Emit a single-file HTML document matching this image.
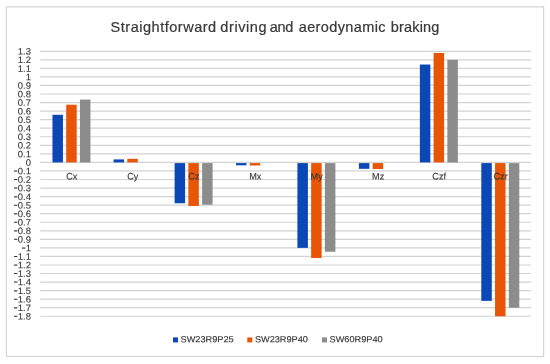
<!DOCTYPE html><html><head><meta charset="utf-8"><title>Chart</title><style>html,body{margin:0;padding:0;background:#fff}svg{display:block}text{font-family:"Liberation Sans",sans-serif;fill:#3c3c3c}</style></head><body>
<svg width="550" height="364" viewBox="0 0 550 364">
<rect x="0" y="0" width="550" height="364" fill="#ffffff"/>
<rect x="6.4" y="6.9" width="537.2" height="349.6" fill="#fff" stroke="#d4d4d4" stroke-width="1.2"/>
<line x1="40.2" x2="531.0" y1="51.28" y2="51.28" stroke="#d2d2d2" stroke-width="1.2"/>
<line x1="40.2" x2="531.0" y1="59.82" y2="59.82" stroke="#d2d2d2" stroke-width="1.2"/>
<line x1="40.2" x2="531.0" y1="68.37" y2="68.37" stroke="#d2d2d2" stroke-width="1.2"/>
<line x1="40.2" x2="531.0" y1="76.92" y2="76.92" stroke="#d2d2d2" stroke-width="1.2"/>
<line x1="40.2" x2="531.0" y1="85.47" y2="85.47" stroke="#d2d2d2" stroke-width="1.2"/>
<line x1="40.2" x2="531.0" y1="94.02" y2="94.02" stroke="#d2d2d2" stroke-width="1.2"/>
<line x1="40.2" x2="531.0" y1="102.56" y2="102.56" stroke="#d2d2d2" stroke-width="1.2"/>
<line x1="40.2" x2="531.0" y1="111.11" y2="111.11" stroke="#d2d2d2" stroke-width="1.2"/>
<line x1="40.2" x2="531.0" y1="119.66" y2="119.66" stroke="#d2d2d2" stroke-width="1.2"/>
<line x1="40.2" x2="531.0" y1="128.21" y2="128.21" stroke="#d2d2d2" stroke-width="1.2"/>
<line x1="40.2" x2="531.0" y1="136.76" y2="136.76" stroke="#d2d2d2" stroke-width="1.2"/>
<line x1="40.2" x2="531.0" y1="145.30" y2="145.30" stroke="#d2d2d2" stroke-width="1.2"/>
<line x1="40.2" x2="531.0" y1="153.85" y2="153.85" stroke="#d2d2d2" stroke-width="1.2"/>
<line x1="40.2" x2="531.0" y1="162.40" y2="162.40" stroke="#d2d2d2" stroke-width="1.2"/>
<line x1="40.2" x2="531.0" y1="170.95" y2="170.95" stroke="#d2d2d2" stroke-width="1.2"/>
<line x1="40.2" x2="531.0" y1="179.50" y2="179.50" stroke="#d2d2d2" stroke-width="1.2"/>
<line x1="40.2" x2="531.0" y1="188.04" y2="188.04" stroke="#d2d2d2" stroke-width="1.2"/>
<line x1="40.2" x2="531.0" y1="196.59" y2="196.59" stroke="#d2d2d2" stroke-width="1.2"/>
<line x1="40.2" x2="531.0" y1="205.14" y2="205.14" stroke="#d2d2d2" stroke-width="1.2"/>
<line x1="40.2" x2="531.0" y1="213.69" y2="213.69" stroke="#d2d2d2" stroke-width="1.2"/>
<line x1="40.2" x2="531.0" y1="222.24" y2="222.24" stroke="#d2d2d2" stroke-width="1.2"/>
<line x1="40.2" x2="531.0" y1="230.78" y2="230.78" stroke="#d2d2d2" stroke-width="1.2"/>
<line x1="40.2" x2="531.0" y1="239.33" y2="239.33" stroke="#d2d2d2" stroke-width="1.2"/>
<line x1="40.2" x2="531.0" y1="247.88" y2="247.88" stroke="#d2d2d2" stroke-width="1.2"/>
<line x1="40.2" x2="531.0" y1="256.43" y2="256.43" stroke="#d2d2d2" stroke-width="1.2"/>
<line x1="40.2" x2="531.0" y1="264.98" y2="264.98" stroke="#d2d2d2" stroke-width="1.2"/>
<line x1="40.2" x2="531.0" y1="273.52" y2="273.52" stroke="#d2d2d2" stroke-width="1.2"/>
<line x1="40.2" x2="531.0" y1="282.07" y2="282.07" stroke="#d2d2d2" stroke-width="1.2"/>
<line x1="40.2" x2="531.0" y1="290.62" y2="290.62" stroke="#d2d2d2" stroke-width="1.2"/>
<line x1="40.2" x2="531.0" y1="299.17" y2="299.17" stroke="#d2d2d2" stroke-width="1.2"/>
<line x1="40.2" x2="531.0" y1="307.72" y2="307.72" stroke="#d2d2d2" stroke-width="1.2"/>
<line x1="40.2" x2="531.0" y1="316.26" y2="316.26" stroke="#d2d2d2" stroke-width="1.2"/>
<text transform="translate(31.0,54.58) rotate(0.03) scale(1.03,1)" font-size="9.2" text-anchor="end" fill="#2e2e2e" stroke="#2e2e2e" stroke-width="0.12">1.3</text>
<text transform="translate(31.0,63.12) rotate(0.03) scale(1.03,1)" font-size="9.2" text-anchor="end" fill="#2e2e2e" stroke="#2e2e2e" stroke-width="0.12">1.2</text>
<text transform="translate(31.0,71.67) rotate(0.03) scale(1.03,1)" font-size="9.2" text-anchor="end" fill="#2e2e2e" stroke="#2e2e2e" stroke-width="0.12">1.1</text>
<text transform="translate(31.0,80.22) rotate(0.03) scale(1.03,1)" font-size="9.2" text-anchor="end" fill="#2e2e2e" stroke="#2e2e2e" stroke-width="0.12">1</text>
<text transform="translate(31.0,88.77) rotate(0.03) scale(1.03,1)" font-size="9.2" text-anchor="end" fill="#2e2e2e" stroke="#2e2e2e" stroke-width="0.12">0.9</text>
<text transform="translate(31.0,97.32) rotate(0.03) scale(1.03,1)" font-size="9.2" text-anchor="end" fill="#2e2e2e" stroke="#2e2e2e" stroke-width="0.12">0.8</text>
<text transform="translate(31.0,105.86) rotate(0.03) scale(1.03,1)" font-size="9.2" text-anchor="end" fill="#2e2e2e" stroke="#2e2e2e" stroke-width="0.12">0.7</text>
<text transform="translate(31.0,114.41) rotate(0.03) scale(1.03,1)" font-size="9.2" text-anchor="end" fill="#2e2e2e" stroke="#2e2e2e" stroke-width="0.12">0.6</text>
<text transform="translate(31.0,122.96) rotate(0.03) scale(1.03,1)" font-size="9.2" text-anchor="end" fill="#2e2e2e" stroke="#2e2e2e" stroke-width="0.12">0.5</text>
<text transform="translate(31.0,131.51) rotate(0.03) scale(1.03,1)" font-size="9.2" text-anchor="end" fill="#2e2e2e" stroke="#2e2e2e" stroke-width="0.12">0.4</text>
<text transform="translate(31.0,140.06) rotate(0.03) scale(1.03,1)" font-size="9.2" text-anchor="end" fill="#2e2e2e" stroke="#2e2e2e" stroke-width="0.12">0.3</text>
<text transform="translate(31.0,148.60) rotate(0.03) scale(1.03,1)" font-size="9.2" text-anchor="end" fill="#2e2e2e" stroke="#2e2e2e" stroke-width="0.12">0.2</text>
<text transform="translate(31.0,157.15) rotate(0.03) scale(1.03,1)" font-size="9.2" text-anchor="end" fill="#2e2e2e" stroke="#2e2e2e" stroke-width="0.12">0.1</text>
<text transform="translate(31.0,165.70) rotate(0.03) scale(1.03,1)" font-size="9.2" text-anchor="end" fill="#2e2e2e" stroke="#2e2e2e" stroke-width="0.12">0</text>
<text transform="translate(31.0,174.25) rotate(0.03) scale(1.03,1)" font-size="9.2" text-anchor="end" fill="#2e2e2e" stroke="#2e2e2e" stroke-width="0.12"><tspan font-size="12.5">-</tspan>0.1</text>
<text transform="translate(31.0,182.80) rotate(0.03) scale(1.03,1)" font-size="9.2" text-anchor="end" fill="#2e2e2e" stroke="#2e2e2e" stroke-width="0.12"><tspan font-size="12.5">-</tspan>0.2</text>
<text transform="translate(31.0,191.34) rotate(0.03) scale(1.03,1)" font-size="9.2" text-anchor="end" fill="#2e2e2e" stroke="#2e2e2e" stroke-width="0.12"><tspan font-size="12.5">-</tspan>0.3</text>
<text transform="translate(31.0,199.89) rotate(0.03) scale(1.03,1)" font-size="9.2" text-anchor="end" fill="#2e2e2e" stroke="#2e2e2e" stroke-width="0.12"><tspan font-size="12.5">-</tspan>0.4</text>
<text transform="translate(31.0,208.44) rotate(0.03) scale(1.03,1)" font-size="9.2" text-anchor="end" fill="#2e2e2e" stroke="#2e2e2e" stroke-width="0.12"><tspan font-size="12.5">-</tspan>0.5</text>
<text transform="translate(31.0,216.99) rotate(0.03) scale(1.03,1)" font-size="9.2" text-anchor="end" fill="#2e2e2e" stroke="#2e2e2e" stroke-width="0.12"><tspan font-size="12.5">-</tspan>0.6</text>
<text transform="translate(31.0,225.54) rotate(0.03) scale(1.03,1)" font-size="9.2" text-anchor="end" fill="#2e2e2e" stroke="#2e2e2e" stroke-width="0.12"><tspan font-size="12.5">-</tspan>0.7</text>
<text transform="translate(31.0,234.08) rotate(0.03) scale(1.03,1)" font-size="9.2" text-anchor="end" fill="#2e2e2e" stroke="#2e2e2e" stroke-width="0.12"><tspan font-size="12.5">-</tspan>0.8</text>
<text transform="translate(31.0,242.63) rotate(0.03) scale(1.03,1)" font-size="9.2" text-anchor="end" fill="#2e2e2e" stroke="#2e2e2e" stroke-width="0.12"><tspan font-size="12.5">-</tspan>0.9</text>
<text transform="translate(31.0,251.18) rotate(0.03) scale(1.03,1)" font-size="9.2" text-anchor="end" fill="#2e2e2e" stroke="#2e2e2e" stroke-width="0.12"><tspan font-size="12.5">-</tspan>1</text>
<text transform="translate(31.0,259.73) rotate(0.03) scale(1.03,1)" font-size="9.2" text-anchor="end" fill="#2e2e2e" stroke="#2e2e2e" stroke-width="0.12"><tspan font-size="12.5">-</tspan>1.1</text>
<text transform="translate(31.0,268.28) rotate(0.03) scale(1.03,1)" font-size="9.2" text-anchor="end" fill="#2e2e2e" stroke="#2e2e2e" stroke-width="0.12"><tspan font-size="12.5">-</tspan>1.2</text>
<text transform="translate(31.0,276.82) rotate(0.03) scale(1.03,1)" font-size="9.2" text-anchor="end" fill="#2e2e2e" stroke="#2e2e2e" stroke-width="0.12"><tspan font-size="12.5">-</tspan>1.3</text>
<text transform="translate(31.0,285.37) rotate(0.03) scale(1.03,1)" font-size="9.2" text-anchor="end" fill="#2e2e2e" stroke="#2e2e2e" stroke-width="0.12"><tspan font-size="12.5">-</tspan>1.4</text>
<text transform="translate(31.0,293.92) rotate(0.03) scale(1.03,1)" font-size="9.2" text-anchor="end" fill="#2e2e2e" stroke="#2e2e2e" stroke-width="0.12"><tspan font-size="12.5">-</tspan>1.5</text>
<text transform="translate(31.0,302.47) rotate(0.03) scale(1.03,1)" font-size="9.2" text-anchor="end" fill="#2e2e2e" stroke="#2e2e2e" stroke-width="0.12"><tspan font-size="12.5">-</tspan>1.6</text>
<text transform="translate(31.0,311.02) rotate(0.03) scale(1.03,1)" font-size="9.2" text-anchor="end" fill="#2e2e2e" stroke="#2e2e2e" stroke-width="0.12"><tspan font-size="12.5">-</tspan>1.7</text>
<text transform="translate(31.0,319.56) rotate(0.03) scale(1.03,1)" font-size="9.2" text-anchor="end" fill="#2e2e2e" stroke="#2e2e2e" stroke-width="0.12"><tspan font-size="12.5">-</tspan>1.8</text>
<rect x="52.45" y="114.79" width="10.5" height="47.61" fill="#0c47b6"/>
<rect x="66.20" y="104.70" width="10.5" height="57.70" fill="#e85506"/>
<rect x="79.95" y="99.57" width="10.5" height="62.83" fill="#8c8c8c"/>
<rect x="113.55" y="159.41" width="10.5" height="2.99" fill="#0c47b6"/>
<rect x="127.30" y="158.81" width="10.5" height="3.59" fill="#e85506"/>
<rect x="174.60" y="163.10" width="10.5" height="40.16" fill="#0c47b6"/>
<rect x="188.35" y="163.10" width="10.5" height="42.89" fill="#e85506"/>
<rect x="202.10" y="163.10" width="10.5" height="41.61" fill="#8c8c8c"/>
<rect x="236.00" y="163.10" width="10.5" height="2.21" fill="#0c47b6"/>
<rect x="249.75" y="163.10" width="10.5" height="2.38" fill="#e85506"/>
<rect x="297.40" y="163.10" width="10.5" height="84.78" fill="#0c47b6"/>
<rect x="311.15" y="163.10" width="10.5" height="94.87" fill="#e85506"/>
<rect x="324.90" y="163.10" width="10.5" height="88.63" fill="#8c8c8c"/>
<rect x="358.90" y="163.10" width="10.5" height="5.71" fill="#0c47b6"/>
<rect x="372.65" y="163.10" width="10.5" height="5.88" fill="#e85506"/>
<rect x="419.85" y="64.53" width="10.5" height="97.87" fill="#0c47b6"/>
<rect x="433.60" y="52.99" width="10.5" height="109.41" fill="#e85506"/>
<rect x="447.35" y="59.82" width="10.5" height="102.58" fill="#8c8c8c"/>
<rect x="481.30" y="163.10" width="10.5" height="137.78" fill="#0c47b6"/>
<rect x="495.05" y="163.10" width="10.5" height="153.16" fill="#e85506"/>
<rect x="508.80" y="163.10" width="10.5" height="144.62" fill="#8c8c8c"/>
<text transform="translate(71.75,179.4) rotate(0.03) scale(0.96,1)" font-size="9.5" text-anchor="middle" fill="#2e2e2e" stroke="#2e2e2e" stroke-width="0.15">Cx</text>
<text transform="translate(132.85,179.4) rotate(0.03) scale(0.96,1)" font-size="9.5" text-anchor="middle" fill="#2e2e2e" stroke="#2e2e2e" stroke-width="0.15">Cy</text>
<text transform="translate(193.90,179.4) rotate(0.03) scale(0.96,1)" font-size="9.5" text-anchor="middle" fill="#2e2e2e" stroke="#2e2e2e" stroke-width="0.15">Cz</text>
<text transform="translate(255.30,179.4) rotate(0.03) scale(0.96,1)" font-size="9.5" text-anchor="middle" fill="#2e2e2e" stroke="#2e2e2e" stroke-width="0.15">Mx</text>
<text transform="translate(316.70,179.4) rotate(0.03) scale(0.96,1)" font-size="9.5" text-anchor="middle" fill="#2e2e2e" stroke="#2e2e2e" stroke-width="0.15">My</text>
<text transform="translate(378.20,179.4) rotate(0.03) scale(0.96,1)" font-size="9.5" text-anchor="middle" fill="#2e2e2e" stroke="#2e2e2e" stroke-width="0.15">Mz</text>
<text transform="translate(439.15,179.4) rotate(0.03) scale(0.96,1)" font-size="9.5" text-anchor="middle" fill="#2e2e2e" stroke="#2e2e2e" stroke-width="0.15">Czf</text>
<text transform="translate(500.60,179.4) rotate(0.03) scale(0.96,1)" font-size="9.5" text-anchor="middle" fill="#2e2e2e" stroke="#2e2e2e" stroke-width="0.15">Czr</text>
<text y="32.2" font-size="14.5" fill="#2b2b2b" stroke="#2b2b2b" stroke-width="0.2"><tspan x="110.60" textLength="105.60" lengthAdjust="spacing">Straightforward</tspan> <tspan x="220.30" textLength="46.30" lengthAdjust="spacing">driving</tspan> <tspan x="269.70" textLength="23.70" lengthAdjust="spacing">and</tspan> <tspan x="298.70" textLength="86.90" lengthAdjust="spacing">aerodynamic</tspan> <tspan x="390.70" textLength="48.70" lengthAdjust="spacing">braking</tspan></text>
<rect x="173" y="337.4" width="5" height="5" fill="#0c47b6"/>
<text transform="translate(180.6,342.3) rotate(0.03)" font-size="8.8" textLength="53" lengthAdjust="spacingAndGlyphs" fill="#2e2e2e" stroke="#2e2e2e" stroke-width="0.15">SW23R9P25</text>
<rect x="247.3" y="337.4" width="5" height="5" fill="#e85506"/>
<text transform="translate(254.9,342.3) rotate(0.03)" font-size="8.8" textLength="53" lengthAdjust="spacingAndGlyphs" fill="#2e2e2e" stroke="#2e2e2e" stroke-width="0.15">SW23R9P40</text>
<rect x="322" y="337.4" width="5" height="5" fill="#8c8c8c"/>
<text transform="translate(329.6,342.3) rotate(0.03)" font-size="8.8" textLength="53" lengthAdjust="spacingAndGlyphs" fill="#2e2e2e" stroke="#2e2e2e" stroke-width="0.15">SW60R9P40</text>
</svg></body></html>
